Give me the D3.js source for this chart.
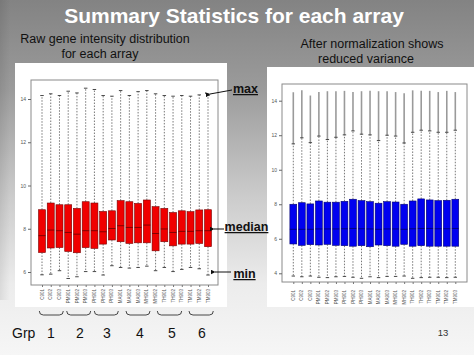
<!DOCTYPE html>
<html><head><meta charset="utf-8">
<script src="https://cdn.jsdelivr.net/npm/d3@7"></script>
<style>html,body{margin:0;padding:0;overflow:hidden;background:#ddd}</style>
</head><body>
<script>
const arrays = ["C901","C902","C903","PM901","PM902","PM903","PH901","PH902","PH903","MA901","MA902","MA903","MH901","MH902","TH901","TH902","TH903","TM901","TM902","TM903"];
// Raw intensities (left)
const rawMin = [5.87,5.90,6.06,5.70,5.78,6.02,6.02,5.86,6.29,6.21,6.18,6.21,6.27,6.06,6.21,6.02,6.12,6.21,6.15,5.86];
const rawQ1  = [6.90,7.11,7.13,6.95,6.89,7.13,7.09,7.29,7.48,7.40,7.32,7.35,7.35,6.98,7.40,7.21,7.29,7.29,7.32,7.17];
const rawMed = [7.68,7.94,7.91,7.83,7.75,7.91,7.91,7.86,8.01,8.14,8.06,8.06,8.17,7.78,7.99,7.83,7.88,7.88,7.91,7.91];
const rawQ3  = [8.88,9.19,9.11,9.11,8.94,9.25,9.19,8.80,8.83,9.30,9.25,9.17,9.33,9.02,8.94,8.75,8.83,8.79,8.87,8.88];
const rawMax = [14.16,14.24,14.16,14.36,14.28,14.50,14.44,14.16,14.13,14.39,14.16,14.34,14.39,14.24,14.16,14.13,14.16,14.13,14.19,14.16];
// Normalized (right)
const normMin = [3.84,3.80,3.84,3.77,3.75,3.80,3.82,3.77,3.71,3.80,3.75,3.82,3.82,3.84,3.71,3.75,3.77,3.77,3.75,3.77];
const normQ1  = [5.70,5.62,5.66,5.64,5.68,5.62,5.60,5.57,5.60,5.54,5.64,5.60,5.57,5.68,5.57,5.60,5.57,5.57,5.57,5.57];
const normMed = [6.55,6.55,6.55,6.57,6.57,6.57,6.58,6.60,6.58,6.57,6.55,6.57,6.57,6.55,6.58,6.60,6.60,6.58,6.58,6.60];
const normQ3  = [8.00,8.09,8.02,8.19,8.12,8.12,8.17,8.29,8.21,8.15,8.06,8.15,8.13,8.00,8.19,8.31,8.25,8.21,8.23,8.29];
const normHi  = [11.50,11.85,11.57,11.95,11.75,11.88,12.02,12.25,12.06,12.02,11.69,12.00,11.95,11.55,12.17,12.29,12.25,12.17,12.17,12.29];
const normMax = [14.49,14.60,14.30,14.50,14.55,14.55,14.57,14.50,14.55,14.57,14.55,14.55,14.50,14.43,14.60,14.57,14.57,14.50,14.57,14.50];
const yTicks = [6,8,10,12,14];
const yTicksNorm = [4,6,8,10,12,14];
const groups = ["1","2","3","4","5","6"];

const W = 474, H = 355;
const svg = d3.select("body").append("svg").attr("width", W).attr("height", H)
  .style("font-family", "'Liberation Sans', Arial, sans-serif");
const defs = svg.append("defs");
const g1 = defs.append("linearGradient").attr("id","bg").attr("x1",0).attr("y1",0).attr("x2",0).attr("y2",1);
[[0,"#838383"],[0.25,"#9b9b9b"],[0.55,"#cbcbcb"],[0.8,"#ececec"],[1,"#f6f6f6"]].forEach(s=>g1.append("stop").attr("offset",s[0]).attr("stop-color",s[1]));
svg.append("rect").attr("width",W).attr("height",H).attr("fill","url(#bg)");
const g2 = defs.append("linearGradient").attr("id","edge").attr("x1",0).attr("y1",0).attr("x2",1).attr("y2",0);
g2.append("stop").attr("offset",0).attr("stop-color","#000").attr("stop-opacity",0.08);
g2.append("stop").attr("offset",1).attr("stop-color","#000").attr("stop-opacity",0);
svg.append("rect").attr("x",0).attr("y",0).attr("width",10).attr("height",300).attr("fill","url(#edge)");

// Title
svg.append("text").attr("x",234).attr("y",23).attr("text-anchor","middle")
  .attr("fill","#fff").attr("font-weight","bold").attr("font-size",21).text("Summary Statistics for each array");
const sub = [["Raw gene intensity distribution",105,43],["for each array",100,58],["After normalization shows",372,48],["reduced variance",366,63]];
sub.forEach(s=>svg.append("text").attr("x",s[1]).attr("y",s[2]).attr("text-anchor","middle")
  .attr("fill","#111").attr("font-size",12.5).text(s[0]));

// White panels
svg.append("rect").attr("x",15).attr("y",63).attr("width",212).attr("height",244).attr("fill","#fff");
svg.append("rect").attr("x",267).attr("y",67).attr("width",207).attr("height",240).attr("fill","#fff");

function panel(cfg) {
  const x = d3.scalePoint().domain(arrays).range(cfg.xr);
  const y = d3.scaleLinear().domain(cfg.yd).range(cfg.yr);
  const bw = x.step() * 0.8;
  const g = svg.append("g");
  g.append("rect").attr("x",cfg.frame[0]).attr("y",cfg.frame[1])
    .attr("width",cfg.frame[2]-cfg.frame[0]).attr("height",cfg.frame[3]-cfg.frame[1])
    .attr("fill","none").attr("stroke","#8a8a8a").attr("stroke-width",1);
  const ax = g.append("g").attr("transform",`translate(${cfg.frame[0]},0)`)
    .call(d3.axisLeft(y).tickValues(cfg.ticks).tickSize(3).tickPadding(2).tickFormat(d3.format("d")));
  ax.select(".domain").remove();
  ax.selectAll("line").attr("stroke","#666");
  ax.selectAll("text").attr("font-size",5).attr("fill","#555").attr("font-family","'Liberation Sans', Arial");
  const xa = g.append("g").attr("transform",`translate(0,${cfg.frame[3]})`)
    .call(d3.axisBottom(x).tickSize(2).tickFormat(""));
  xa.select(".domain").remove();
  xa.selectAll("line").attr("stroke","#777");
  g.selectAll(".xl").data(arrays).join("text")
    .attr("transform",d=>`translate(${x(d)+1.6},${cfg.labY}) rotate(-90)`)
    .attr("text-anchor","end").attr("font-size",4.5).attr("fill","#555").text(d=>d);
  const d = arrays.map((a,i)=>({a, i}));
  g.selectAll(".wu").data(d).join("line")
    .attr("x1",e=>x(e.a)).attr("x2",e=>x(e.a))
    .attr("y1",e=>y(cfg.q3[e.i])).attr("y2",e=>y(cfg.hi[e.i]))
    .attr("stroke","#555").attr("stroke-width",0.8).attr("stroke-dasharray","1.5,1.5");
  g.selectAll(".wl").data(d).join("line")
    .attr("x1",e=>x(e.a)).attr("x2",e=>x(e.a))
    .attr("y1",e=>y(cfg.q1[e.i])).attr("y2",e=>y(cfg.min[e.i]))
    .attr("stroke","#555").attr("stroke-width",0.8).attr("stroke-dasharray","1.5,1.5");
  if (cfg.out) {
    g.selectAll(".ou").data(d).join("line")
      .attr("x1",e=>x(e.a)).attr("x2",e=>x(e.a))
      .attr("y1",e=>y(cfg.hi[e.i])).attr("y2",e=>y(cfg.out[e.i]))
      .attr("stroke","#9a9a9a").attr("stroke-width",1.6);
  }
  [cfg.hi, cfg.min].forEach(arr=>{
    g.selectAll(null).data(d).join("line")
      .attr("x1",e=>x(e.a)-bw*0.25).attr("x2",e=>x(e.a)+bw*0.25)
      .attr("y1",e=>y(arr[e.i])).attr("y2",e=>y(arr[e.i]))
      .attr("stroke","#333").attr("stroke-width",0.9);
  });
  g.selectAll(".bx").data(d).join("rect")
    .attr("x",e=>x(e.a)-bw/2).attr("width",bw)
    .attr("y",e=>y(cfg.q3[e.i])).attr("height",e=>y(cfg.q1[e.i])-y(cfg.q3[e.i]))
    .attr("fill",cfg.fill).attr("stroke",cfg.stroke).attr("stroke-width",0.6);
  g.selectAll(".md").data(d).join("line")
    .attr("x1",e=>x(e.a)-bw/2).attr("x2",e=>x(e.a)+bw/2)
    .attr("y1",e=>y(cfg.med[e.i])).attr("y2",e=>y(cfg.med[e.i]))
    .attr("stroke",cfg.medc).attr("stroke-width",1);
}
panel({xr:[42,208], yd:[6,14], yr:[272,99], frame:[31,80,218,285], ticks:yTicks, labY:289,
  q1:rawQ1, q3:rawQ3, med:rawMed, hi:rawMax, min:rawMin, fill:"#f00000", stroke:"#700", medc:"#800000"});
panel({xr:[293.3,455.3], yd:[4,14], yr:[273.3,100.7], frame:[282,84,467,282], ticks:yTicksNorm, labY:290,
  q1:normQ1, q3:normQ3, med:normMed, hi:normHi, min:normMin, out:normMax, fill:"#0000f0", stroke:"#000070", medc:"#000080"});

// annotations
const ann = [["max",245.5,93,[232,90],[210,94]],["median",246.5,231,[224,229],[214,229]],["min",244.5,278,[231,272],[215,272]]];
defs.append("marker").attr("id","ah").attr("viewBox","0 0 10 10").attr("refX",1).attr("refY",5)
  .attr("markerWidth",5).attr("markerHeight",5).attr("orient","auto-start-reverse")
  .append("path").attr("d","M0,5 L10,0 L10,10 Z").attr("fill","#111");
ann.forEach(a=>{
  svg.append("text").attr("x",a[1]).attr("y",a[2]).attr("text-anchor","middle").attr("font-weight","bold")
    .attr("font-size",12.5).attr("fill","#111").attr("text-decoration","underline").text(a[0]);
  svg.append("line").attr("x1",a[3][0]).attr("y1",a[3][1]).attr("x2",a[4][0]).attr("y2",a[4][1])
    .attr("stroke","#111").attr("stroke-width",1).attr("marker-end","url(#ah)");
});

// group braces
const braces = [[39.3,63.3],[66.7,90.7],[94.3,118.3],[126,150],[157.3,181.7],[189,213.3]];
const grpX = [51,80,107,140,172,202];
braces.forEach(b=>{
  svg.append("path").attr("d",`M${b[0]},311 q0,4 4,4 L${b[1]-4},315 q4,0 4,-4`)
    .attr("fill","none").attr("stroke","#333").attr("stroke-width",0.9);
});
svg.append("text").attr("x",12).attr("y",338).attr("font-size",14).attr("fill","#111").text("Grp");
svg.selectAll(".gn").data(groups).join("text").attr("x",(d,i)=>grpX[i]).attr("y",338)
  .attr("text-anchor","middle").attr("font-size",14).attr("fill","#111").text(d=>d);
svg.append("text").attr("x",443).attr("y",336).attr("text-anchor","middle").attr("font-size",9.5).attr("fill","#333").text("13");
</script>
</body></html>
